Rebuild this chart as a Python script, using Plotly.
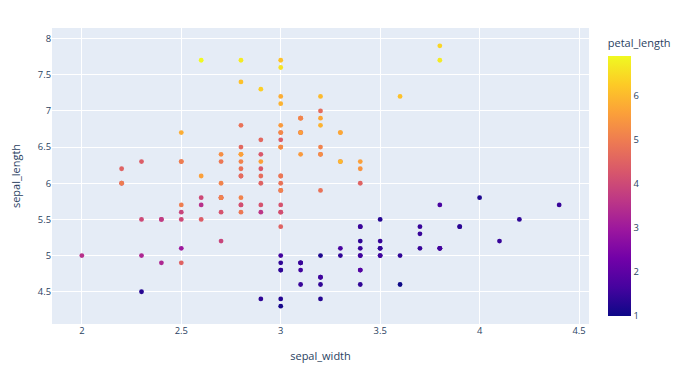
import pandas as pd
import plotly.express as px

sepal_length = [5.1,4.9,4.7,4.6,5.0,5.4,4.6,5.0,4.4,4.9,5.4,4.8,4.8,4.3,5.8,5.7,5.4,5.1,5.7,5.1,
                5.4,5.1,4.6,5.1,4.8,5.0,5.0,5.2,5.2,4.7,4.8,5.4,5.2,5.5,4.9,5.0,5.5,4.9,4.4,5.1,
                5.0,4.5,4.4,5.0,5.1,4.8,5.1,4.6,5.3,5.0,
                7.0,6.4,6.9,5.5,6.5,5.7,6.3,4.9,6.6,5.2,5.0,5.9,6.0,6.1,5.6,6.7,5.6,5.8,6.2,5.6,
                5.9,6.1,6.3,6.1,6.4,6.6,6.8,6.7,6.0,5.7,5.5,5.5,5.8,6.0,5.4,6.0,6.7,6.3,5.6,5.5,
                5.5,6.1,5.8,5.0,5.6,5.7,5.7,6.2,5.1,5.7,
                6.3,5.8,7.1,6.3,6.5,7.6,4.9,7.3,6.7,7.2,6.5,6.4,6.8,5.7,5.8,6.4,6.5,7.7,7.7,6.0,
                6.9,5.6,7.7,6.3,6.7,7.2,6.2,6.1,6.4,7.2,7.4,7.9,6.4,6.3,6.1,7.7,6.3,6.4,6.0,6.9,
                6.7,6.9,5.8,6.8,6.7,6.7,6.3,6.5,6.2,5.9]
sepal_width = [3.5,3.0,3.2,3.1,3.6,3.9,3.4,3.4,2.9,3.1,3.7,3.4,3.0,3.0,4.0,4.4,3.9,3.5,3.8,3.8,
               3.4,3.7,3.6,3.3,3.4,3.0,3.4,3.5,3.4,3.2,3.1,3.4,4.1,4.2,3.1,3.2,3.5,3.1,3.0,3.4,
               3.5,2.3,3.2,3.5,3.8,3.0,3.8,3.2,3.7,3.3,
               3.2,3.2,3.1,2.3,2.8,2.8,3.3,2.4,2.9,2.7,2.0,3.0,2.2,2.9,2.9,3.1,3.0,2.7,2.2,2.5,
               3.2,2.8,2.5,2.8,2.9,3.0,2.8,3.0,2.9,2.6,2.4,2.4,2.7,2.7,3.0,3.4,3.1,2.3,3.0,2.5,
               2.6,3.0,2.6,2.3,2.7,3.0,2.9,2.9,2.5,2.8,
               3.3,2.7,3.0,2.9,3.0,3.0,2.5,2.9,2.5,3.6,3.2,2.7,3.0,2.5,2.8,3.2,3.0,3.8,2.6,2.2,
               3.2,2.8,2.8,2.7,3.3,3.2,2.8,3.0,2.8,3.0,2.8,3.8,2.8,2.8,2.6,3.0,3.4,3.1,3.0,3.1,
               3.1,3.1,2.7,3.2,3.3,3.0,2.5,3.0,3.4,3.0]
petal_length = [1.4,1.4,1.3,1.5,1.4,1.7,1.4,1.5,1.4,1.5,1.5,1.6,1.4,1.1,1.2,1.5,1.3,1.4,1.7,1.5,
                1.7,1.5,1.0,1.7,1.9,1.6,1.6,1.5,1.4,1.6,1.6,1.5,1.5,1.4,1.5,1.2,1.3,1.5,1.3,1.5,
                1.3,1.3,1.3,1.6,1.9,1.4,1.6,1.4,1.5,1.4,
                4.7,4.5,4.9,4.0,4.6,4.5,4.7,3.3,4.6,3.9,3.5,4.2,4.0,4.7,3.6,4.4,4.5,4.1,4.5,3.9,
                4.8,4.0,4.9,4.7,4.3,4.4,4.8,5.0,4.5,3.5,3.8,3.7,3.9,5.1,4.5,4.5,4.7,4.4,4.1,4.0,
                4.4,4.6,4.0,3.3,4.2,4.2,4.2,4.3,3.0,4.1,
                6.0,5.1,5.9,5.6,5.8,6.6,4.5,6.3,5.8,6.1,5.1,5.3,5.5,5.0,5.1,5.3,5.5,6.7,6.9,5.0,
                5.7,4.9,6.7,4.9,5.7,6.0,4.8,4.9,5.6,5.8,6.1,6.4,5.6,5.1,5.6,6.1,5.6,5.5,4.8,5.4,
                5.6,5.1,5.1,5.9,5.7,5.2,5.0,5.2,5.4,5.1]

df = pd.DataFrame({"sepal_width": sepal_width, "sepal_length": sepal_length,
                   "petal_length": petal_length})

fig = px.scatter(df, x="sepal_width", y="sepal_length", color="petal_length")
fig.update_traces(marker=dict(size=4.8))
fig.update_layout(width=672, height=368,
                  margin=dict(l=44, r=91, t=20, b=52, autoexpand=False),
                  font=dict(size=9.4),
                  coloraxis_colorbar=dict(thickness=23, xpad=8, ypad=8))
fig.update_xaxes(automargin=False)
fig.update_yaxes(automargin=False)
fig.write_html("out.html")
